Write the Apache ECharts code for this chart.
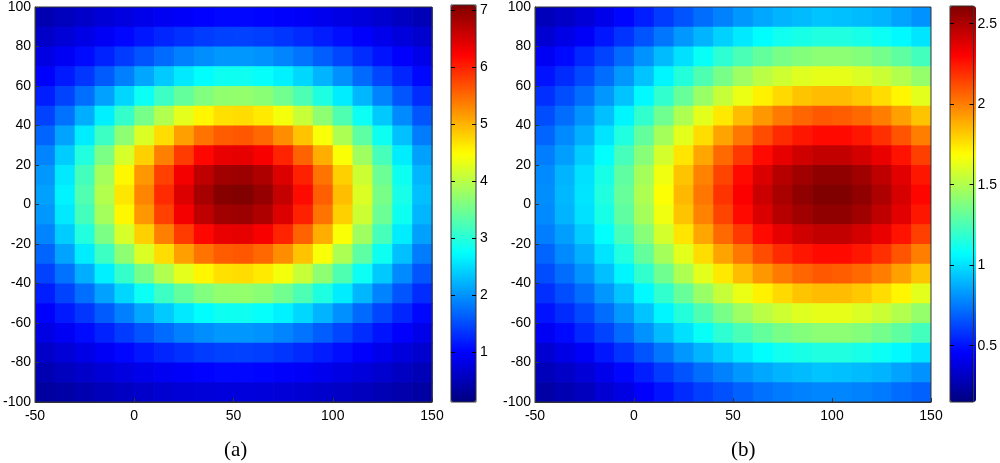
<!DOCTYPE html>
<html>
<head>
<meta charset="utf-8">
<script src="https://cdn.jsdelivr.net/npm/echarts@6/dist/echarts.min.js"></script>
<style>html,body{margin:0;padding:0;background:#fff;}#chart{width:1000px;height:463px;}</style>
</head>
<body>
<div id="chart"></div>
<script>
// ---- data ----
const xCenters = [-45,-35,-25,-15,-5,5,15,25,35,45,55,65,75,85,95,105,115,125,135,145];
const yCenters = [95,85,75,65,55,45,35,25,15,5,-5,-15,-25,-35,-45,-55,-65,-75,-85,-95];
const xTicks = [-50,0,50,100,150];
const yTicks = [-100,-80,-60,-40,-20,0,20,40,60,80,100];
const cbTicksA = [1,2,3,4,5,6,7];
const cbTicksB = [0.5,1,1.5,2,2.5];
const rangeA = [0.12, 7.09];
const rangeB = [0.15, 2.61];

// panel (a) field, rows from y=95 (top) to y=-95 (bottom)
const fieldA = [
 [0.46,0.55,0.63,0.71,0.78,0.85,0.91,0.96,1.00,1.03,1.03,1.01,0.98,0.94,0.88,0.81,0.74,0.66,0.58,0.50],
 [0.62,0.72,0.82,0.93,1.03,1.14,1.24,1.32,1.39,1.43,1.44,1.41,1.35,1.28,1.18,1.08,0.97,0.87,0.76,0.66],
 [0.79,0.92,1.06,1.22,1.39,1.56,1.72,1.86,1.96,2.02,2.03,1.99,1.90,1.78,1.63,1.46,1.29,1.12,0.97,0.84],
 [0.98,1.16,1.36,1.61,1.86,2.12,2.37,2.58,2.73,2.82,2.83,2.77,2.64,2.46,2.22,1.97,1.71,1.46,1.24,1.04],
 [1.19,1.45,1.75,2.09,2.46,2.81,3.14,3.41,3.61,3.73,3.74,3.67,3.50,3.25,2.94,2.60,2.24,1.88,1.57,1.29],
 [1.44,1.77,2.18,2.63,3.09,3.54,3.94,4.29,4.54,4.69,4.71,4.62,4.40,4.09,3.70,3.27,2.81,2.36,1.93,1.57],
 [1.68,2.11,2.61,3.14,3.70,4.23,4.71,5.13,5.43,5.60,5.63,5.52,5.26,4.89,4.43,3.91,3.36,2.82,2.30,1.84],
 [1.89,2.39,2.96,3.57,4.20,4.80,5.35,5.82,6.17,6.37,6.39,6.27,5.98,5.55,5.03,4.44,3.82,3.21,2.61,2.08],
 [2.03,2.58,3.20,3.85,4.53,5.19,5.78,6.29,6.66,6.87,6.90,6.77,6.45,6.00,5.43,4.80,4.12,3.46,2.82,2.24],
 [2.08,2.65,3.28,3.95,4.65,5.32,5.93,6.45,6.83,7.05,7.08,6.94,6.62,6.15,5.57,4.92,4.23,3.55,2.89,2.30],
 [2.03,2.58,3.20,3.85,4.53,5.19,5.78,6.29,6.66,6.87,6.90,6.77,6.45,6.00,5.43,4.80,4.12,3.46,2.82,2.24],
 [1.89,2.39,2.96,3.57,4.20,4.80,5.35,5.82,6.17,6.37,6.39,6.27,5.98,5.55,5.03,4.44,3.82,3.21,2.61,2.08],
 [1.68,2.11,2.61,3.14,3.70,4.23,4.71,5.13,5.43,5.60,5.63,5.52,5.26,4.89,4.43,3.91,3.36,2.82,2.30,1.84],
 [1.44,1.77,2.18,2.63,3.09,3.54,3.94,4.29,4.54,4.69,4.71,4.62,4.40,4.09,3.70,3.27,2.81,2.36,1.93,1.57],
 [1.19,1.45,1.75,2.09,2.46,2.81,3.14,3.41,3.61,3.73,3.74,3.67,3.50,3.25,2.94,2.60,2.24,1.88,1.57,1.29],
 [0.98,1.16,1.36,1.61,1.86,2.12,2.37,2.58,2.73,2.82,2.83,2.77,2.64,2.46,2.22,1.97,1.71,1.46,1.24,1.04],
 [0.79,0.92,1.06,1.22,1.39,1.56,1.72,1.86,1.96,2.02,2.03,1.99,1.90,1.78,1.63,1.46,1.29,1.12,0.97,0.84],
 [0.62,0.72,0.82,0.93,1.03,1.14,1.24,1.32,1.39,1.43,1.44,1.41,1.35,1.28,1.18,1.08,0.97,0.87,0.76,0.66],
 [0.46,0.55,0.63,0.71,0.78,0.85,0.91,0.96,1.00,1.03,1.03,1.01,0.98,0.94,0.88,0.81,0.74,0.66,0.58,0.50],
 [0.34,0.39,0.45,0.52,0.57,0.63,0.67,0.71,0.73,0.75,0.75,0.74,0.72,0.69,0.65,0.60,0.54,0.48,0.42,0.36]
];

// panel (b) field, rows from y=95 (top) to y=-95 (bottom)
const fieldB = [
 [0.29,0.32,0.36,0.41,0.47,0.53,0.60,0.66,0.72,0.77,0.82,0.86,0.89,0.91,0.93,0.92,0.91,0.89,0.85,0.81],
 [0.35,0.40,0.44,0.51,0.58,0.66,0.74,0.82,0.89,0.96,1.02,1.07,1.11,1.13,1.15,1.15,1.13,1.10,1.06,1.01],
 [0.43,0.48,0.55,0.62,0.71,0.81,0.91,1.00,1.09,1.18,1.25,1.31,1.36,1.39,1.41,1.41,1.39,1.35,1.30,1.23],
 [0.50,0.56,0.63,0.72,0.82,0.93,1.05,1.16,1.26,1.36,1.45,1.52,1.57,1.61,1.63,1.63,1.60,1.56,1.50,1.43],
 [0.57,0.64,0.72,0.82,0.93,1.06,1.19,1.32,1.44,1.55,1.64,1.72,1.78,1.83,1.85,1.85,1.82,1.77,1.71,1.62],
 [0.64,0.72,0.81,0.92,1.05,1.19,1.34,1.49,1.62,1.74,1.85,1.94,2.01,2.06,2.09,2.08,2.05,2.00,1.92,1.83],
 [0.70,0.79,0.88,1.01,1.15,1.31,1.47,1.62,1.77,1.91,2.02,2.12,2.20,2.25,2.28,2.28,2.25,2.19,2.10,2.00],
 [0.76,0.84,0.95,1.08,1.24,1.40,1.58,1.75,1.90,2.05,2.17,2.28,2.36,2.42,2.45,2.45,2.41,2.35,2.26,2.15],
 [0.79,0.89,1.00,1.13,1.30,1.47,1.65,1.83,1.99,2.14,2.28,2.39,2.48,2.53,2.57,2.57,2.53,2.46,2.37,2.25],
 [0.80,0.90,1.01,1.15,1.32,1.49,1.68,1.86,2.02,2.18,2.31,2.43,2.51,2.57,2.61,2.61,2.57,2.50,2.40,2.29],
 [0.79,0.89,1.00,1.13,1.30,1.47,1.65,1.83,1.99,2.14,2.28,2.39,2.48,2.53,2.57,2.57,2.53,2.46,2.37,2.25],
 [0.76,0.84,0.95,1.08,1.24,1.40,1.58,1.75,1.90,2.05,2.17,2.28,2.36,2.42,2.45,2.45,2.41,2.35,2.26,2.15],
 [0.70,0.79,0.88,1.01,1.15,1.31,1.47,1.62,1.77,1.91,2.02,2.12,2.20,2.25,2.28,2.28,2.25,2.19,2.10,2.00],
 [0.64,0.72,0.81,0.92,1.05,1.19,1.34,1.49,1.62,1.74,1.85,1.94,2.01,2.06,2.09,2.08,2.05,2.00,1.92,1.83],
 [0.57,0.64,0.72,0.82,0.93,1.06,1.19,1.32,1.44,1.55,1.64,1.72,1.78,1.83,1.85,1.85,1.82,1.77,1.71,1.62],
 [0.50,0.56,0.63,0.72,0.82,0.93,1.05,1.16,1.26,1.36,1.45,1.52,1.57,1.61,1.63,1.63,1.60,1.56,1.50,1.43],
 [0.43,0.48,0.55,0.62,0.71,0.81,0.91,1.00,1.09,1.18,1.25,1.31,1.36,1.39,1.41,1.41,1.39,1.35,1.30,1.23],
 [0.35,0.40,0.44,0.51,0.58,0.66,0.74,0.82,0.89,0.96,1.02,1.07,1.11,1.13,1.15,1.15,1.13,1.10,1.06,1.01],
 [0.29,0.32,0.36,0.41,0.47,0.53,0.60,0.66,0.72,0.77,0.82,0.86,0.89,0.91,0.93,0.92,0.91,0.89,0.85,0.81],
 [0.24,0.27,0.30,0.35,0.39,0.45,0.50,0.56,0.61,0.65,0.69,0.73,0.75,0.77,0.78,0.78,0.77,0.75,0.72,0.69]
];

// ---- build ----
const JET = ['#000080','#0000ff','#0080ff','#00ffff','#80ff80','#ffff00','#ff8000','#ff0000','#800000'];
function toCells(field){
  const out = [];
  field.forEach((row, i) => row.forEach((v, j) => out.push([xCenters[j], yCenters[i], v])));
  return out;
}
const HALF = (xCenters[1] - xCenters[0]) / 2;
function renderCell(params, api){
  const x = api.value(0), y = api.value(1);
  const p0 = api.coord([x - HALF, y + HALF]);
  const p1 = api.coord([x + HALF, y - HALF]);
  return {type:'rect', shape:{x:p0[0], y:p0[1], width:p1[0]-p0[0]+0.7, height:p1[1]-p0[1]+0.7},
          style:{fill: api.visual('color')}};
}
const FONT = {fontFamily:'Liberation Sans, Arial, sans-serif', fontSize:14, color:'#000'};
const AX_LINE = {show:true, onZero:false, lineStyle:{color:'#333', width:1}};
function mainX(gi){
  return {type:'value', gridIndex:gi, min:xTicks[0], max:xTicks[xTicks.length-1], interval:50, z:10,
    axisLine:AX_LINE, axisTick:{show:true, inside:true, length:4, lineStyle:{color:'#333'}},
    axisLabel:Object.assign({margin:7}, FONT), splitLine:{show:false}};
}
function mainY(gi){
  return {type:'value', gridIndex:gi, min:yTicks[0], max:yTicks[yTicks.length-1], interval:20, z:10,
    axisLine:AX_LINE, axisTick:{show:true, inside:true, length:4, lineStyle:{color:'#333'}},
    axisLabel:Object.assign({margin:4}, FONT), splitLine:{show:false}};
}
function cbX(gi){
  return {type:'value', gridIndex:gi, min:0, max:1, show:false};
}
function cbY(gi, range, ticks, pos, labels){
  return {type:'value', gridIndex:gi, min:range[0], max:range[1], position:pos, z:10,
    axisLine:{show:false, onZero:false},
    axisTick:{show:true, inside:true, length:4, customValues:ticks, lineStyle:{color:'#000'}},
    axisLabel:Object.assign({show:labels, margin:4, customValues:ticks}, FONT),
    splitLine:{show:false}};
}
const gridBox = {show:true, borderColor:'#333', borderWidth:1, backgroundColor:'transparent', z:10};
const option = {
  animation:false,
  backgroundColor:'#fff',
  grid:[
    Object.assign({left:34, top:5, width:398, height:397}, gridBox),
    Object.assign({left:535, top:6, width:396, height:396}, gridBox),
    Object.assign({left:451, top:5, width:25, height:397}, gridBox),
    Object.assign({left:950, top:6, width:26, height:396}, gridBox)
  ],
  xAxis:[mainX(0), mainX(1), cbX(2), cbX(3)],
  yAxis:[mainY(0), mainY(1),
         cbY(2, rangeA, cbTicksA, 'right', true), cbY(2, rangeA, cbTicksA, 'left', false),
         cbY(3, rangeB, cbTicksB, 'right', true), cbY(3, rangeB, cbTicksB, 'left', false)],
  visualMap:[
    {type:'continuous', seriesIndex:0, dimension:2, min:rangeA[0], max:rangeA[1], inRange:{color:JET},
     orient:'vertical', left:451, top:5, itemWidth:25, itemHeight:397, padding:0,
     calculable:false, hoverLink:false, text:null, showLabel:false},
    {type:'continuous', seriesIndex:1, dimension:2, min:rangeB[0], max:rangeB[1], inRange:{color:JET},
     orient:'vertical', left:950, top:6, itemWidth:26, itemHeight:396, padding:0,
     calculable:false, hoverLink:false, text:null, showLabel:false}
  ],
  series:[
    {type:'custom', xAxisIndex:0, yAxisIndex:0, renderItem:renderCell, encode:{x:0, y:1}, data:toCells(fieldA), clip:true},
    {type:'custom', xAxisIndex:1, yAxisIndex:1, renderItem:renderCell, encode:{x:0, y:1}, data:toCells(fieldB), clip:true}
  ],
  graphic:[
    {type:'text', left:224, top:440, style:{text:'(a)', font:'21px "Liberation Serif", "Times New Roman", serif', fill:'#000'}},
    {type:'text', left:731, top:440, style:{text:'(b)', font:'21px "Liberation Serif", "Times New Roman", serif', fill:'#000'}}
  ]
};
const chart = echarts.init(document.getElementById('chart'), null, {renderer:'canvas'});
chart.setOption(option);
</script>
</body>
</html>
